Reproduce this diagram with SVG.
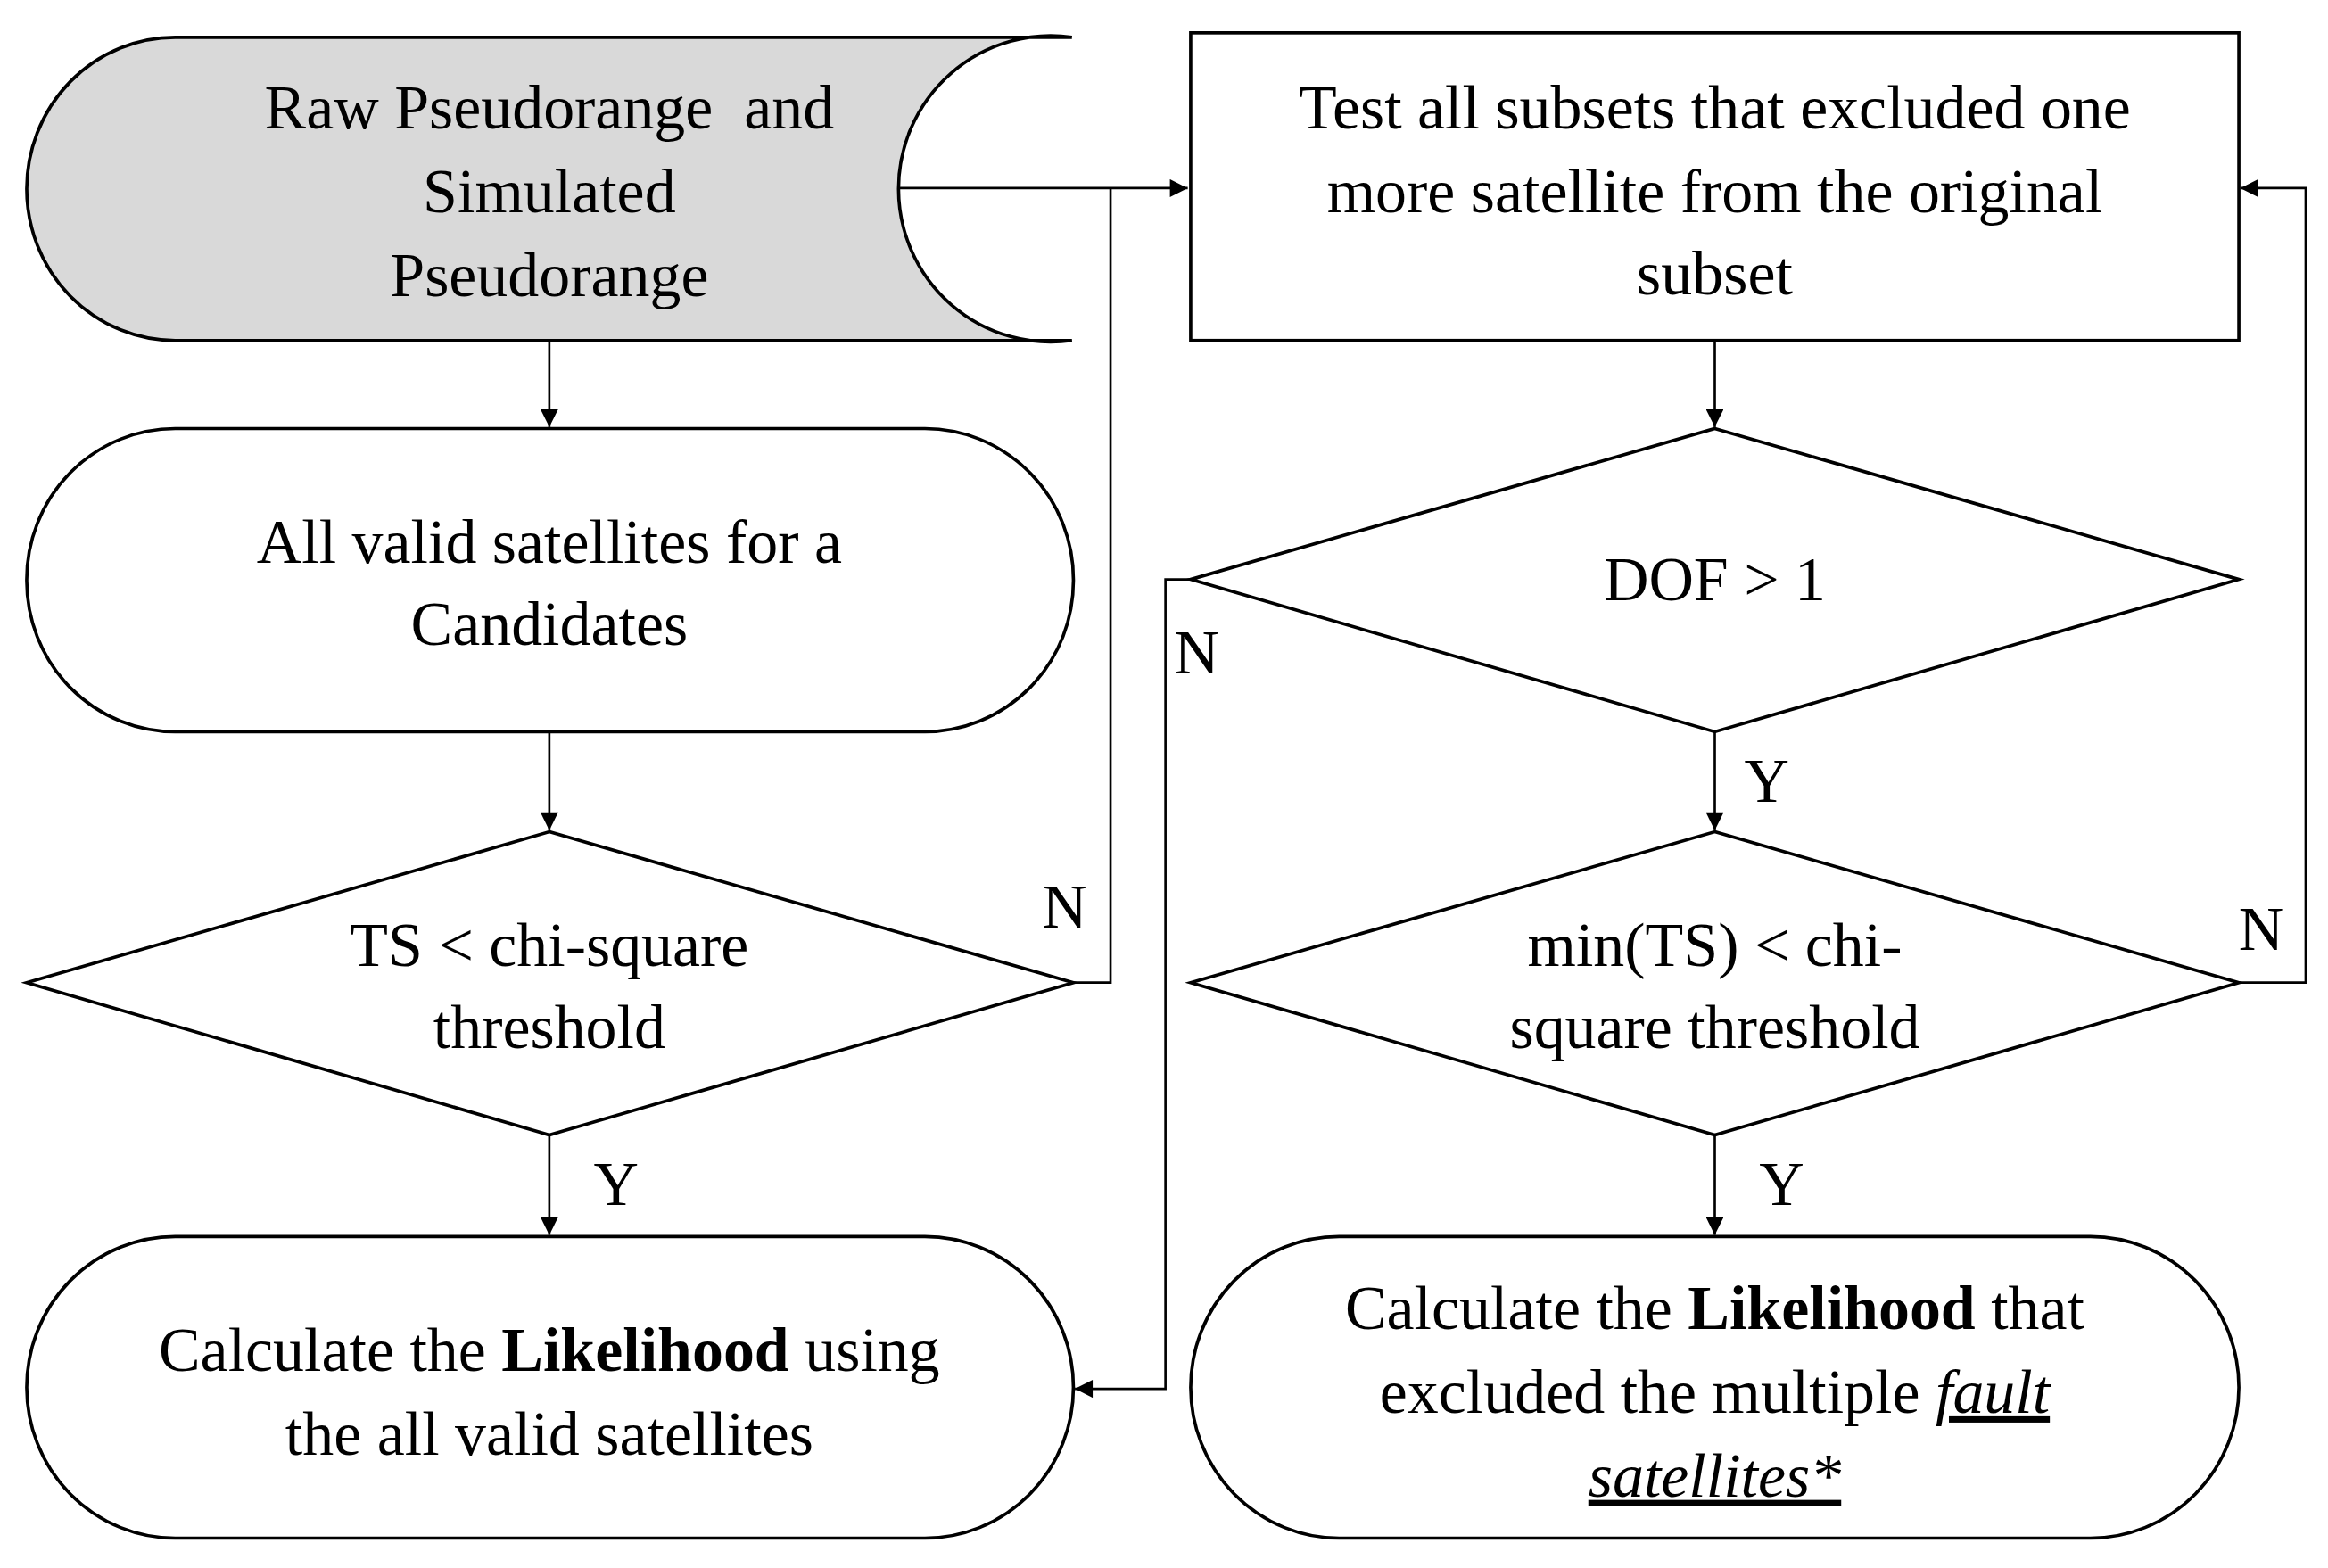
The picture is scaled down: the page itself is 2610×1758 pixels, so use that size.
<svg xmlns="http://www.w3.org/2000/svg" width="2610" height="1758" viewBox="0 0 2610 1758">
<defs>
<style>
.s{fill:#fff;stroke:#000;stroke-width:2.2}
.c{fill:none;stroke:#000;stroke-width:1.6}
text{font-family:"Liberation Serif","Times New Roman",serif;font-size:42px;fill:#000}
.m{text-anchor:middle}
</style>
<marker id="a" viewBox="0 0 10 10" refX="10" refY="5" markerWidth="10" markerHeight="10" markerUnits="userSpaceOnUse" orient="auto"><path d="M0,0L10,5L0,10z"/></marker>
<marker id="b" viewBox="0 0 10 10" refX="10" refY="5" markerWidth="16" markerHeight="12" markerUnits="userSpaceOnUse" orient="auto"><path d="M0,0L10,5L0,10z"/></marker>
</defs>
<rect width="2610" height="1758" fill="#fff"/>
<g transform="scale(1.6645 1.6743)">
<g id="connectors">
<path class="c" d="M605,126H800" marker-end="url(#b)"/>
<path class="c" d="M723,658H748V126"/>
<path class="c" d="M370,228V286" marker-end="url(#b)"/>
<path class="c" d="M370,490V556" marker-end="url(#b)"/>
<path class="c" d="M370,760V827" marker-end="url(#b)"/>
<path class="c" d="M1155,228V286" marker-end="url(#b)"/>
<path class="c" d="M1155,490V556" marker-end="url(#b)"/>
<path class="c" d="M1155,760V827" marker-end="url(#b)"/>
<path class="c" d="M802,388H785V930H724" marker-end="url(#b)"/>
<path class="c" d="M1508,658H1553V126H1509" marker-end="url(#b)"/>
<text x="717" y="621" class="m">N</text>
<text x="415" y="807" class="m">Y</text>
<text x="806" y="451" class="m">N</text>
<text x="1190" y="537" class="m">Y</text>
<text x="1200" y="807" class="m">Y</text>
<text x="1523" y="636" class="m">N</text>
</g>
<g id="input">
<path class="s" style="fill:#d9d9d9" d="M722,25H118A100,101.5 0 0 0 118,228H722A102.5,102.5 0 1 1 722,25"/>
<text x="370" y="86" class="m" xml:space="preserve">Raw Pseudorange  and</text>
<text x="370" y="142" class="m">Simulated</text>
<text x="370" y="198" class="m">Pseudorange</text>
</g>
<g id="test">
<rect class="s" x="802" y="22" width="706" height="206"/>
<text x="1155" y="86" class="m">Test all subsets that excluded one</text>
<text x="1155" y="142" class="m">more satellite from the original</text>
<text x="1155" y="197" class="m">subset</text>
</g>
<g id="valid">
<rect class="s" x="18" y="287" width="705" height="203" rx="100" ry="101"/>
<text x="370" y="377" class="m">All valid satellites for a</text>
<text x="370" y="432" class="m">Candidates</text>
</g>
<g id="ts">
<path class="s" d="M370,557L723,658L370,760L18,658Z"/>
<text x="370" y="647" class="m">TS &lt; chi-square</text>
<text x="370" y="702" class="m">threshold</text>
</g>
<g id="dof">
<path class="s" d="M1155,287L1508,388L1155,490L802,388Z"/>
<text x="1155" y="402" class="m">DOF &gt; 1</text>
</g>
<g id="min">
<path class="s" d="M1155,557L1508,658L1155,760L802,658Z"/>
<text x="1155" y="647" class="m">min(TS) &lt; chi-</text>
<text x="1155" y="702" class="m">square threshold</text>
</g>
<g id="likeAll">
<rect class="s" x="18" y="828" width="705" height="202" rx="100" ry="101"/>
<text x="370" y="918" class="m">Calculate the <tspan font-weight="bold">Likelihood</tspan> using</text>
<text x="370" y="974" class="m">the all valid satellites</text>
</g>
<g id="likeExcl">
<rect class="s" x="802" y="828" width="706" height="202" rx="100" ry="101"/>
<text x="1155" y="890" class="m">Calculate the <tspan font-weight="bold">Likelihood</tspan> that</text>
<text x="1155" y="946" class="m">excluded the multiple <tspan font-style="italic" text-decoration="underline">fault</tspan></text>
<text x="1155" y="1002" class="m" font-style="italic" text-decoration="underline">satellites*</text>
</g>
</g>
</svg>
